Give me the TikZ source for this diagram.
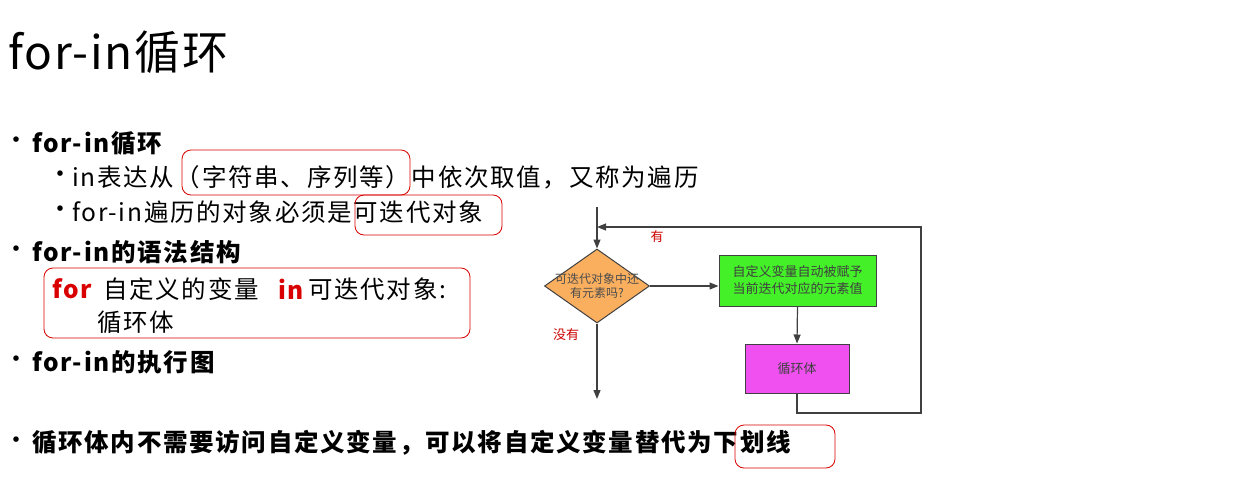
\documentclass[tikz,border=0pt]{standalone}
\usepackage{fontspec}
\setmainfont{Noto Sans CJK SC}
\usetikzlibrary{shapes.geometric,arrows.meta}
\begin{document}
\begin{tikzpicture}[x=1pt,y=-1pt,
  txt/.style={anchor=west,inner sep=0pt,font=\fontsize{24.5}{26}\selectfont\addfontfeature{LetterSpace=7}},
  btxt/.style={txt,font=\fontsize{24.5}{26}\selectfont\addfontfeature{LetterSpace=7}\bfseries},
  redbox/.style={draw=red!85!black,rounded corners=9pt,line width=0.8pt},
  flow/.style={draw=black!75,line width=1.2pt},
  arr/.style={flow,-{Triangle[length=9pt,width=7pt]}},
  dot/.style={inner sep=0pt,font=\fontsize{26}{26}\selectfont},
  lbl/.style={font=\fontsize{13}{14}\selectfont,text=red!80!black,inner sep=0pt}]
\useasboundingbox (0,0) rectangle (1248,503);
\node[anchor=west,inner sep=0pt,font=\fontsize{46}{48}\selectfont\addfontfeature{LetterSpace=4}] (title) at (8,52) {for-in循环};
% bullets
\foreach \y/\nm in {143/b1,252/b2,362/b3,443/b4} \node[dot] (\nm) at (16,\y) {•};
\foreach \y/\nm in {177/s1,212/s2} \node[dot] (\nm) at (60,\y) {•};
\node[btxt] (l1) at (32,143) {for-in循环};
\node[txt] (l2) at (72,177) {in表达从（字符串、序列等）中依次取值，又称为遍历};
\node[txt] (l3) at (72,212) {for-in遍历的对象必须是可迭代对象};
\node[btxt] (l4) at (32,252) {for-in的语法结构};
\node[btxt,text=red!85!black] (kf) at (52,289) {for};
\node[txt] (v) at (103,289) {自定义的变量};
\node[btxt,text=red!85!black] (ki) at (278,289) {in};
\node[txt] (it) at (308,289) {可迭代对象:};
\node[txt] (body) at (97,322) {循环体};
\node[btxt] (l5) at (32,362) {for-in的执行图};
\node[btxt] (l6) at (32,443) {循环体内不需要访问自定义变量，可以将自定义变量替代为下划线};
% red marks
\draw[redbox] (182,150) rectangle (410,195);
\draw[redbox] (355,195) rectangle (502,235);
\draw[redbox] (44,268) rectangle (470,338);
\draw[redbox] (735,425) rectangle (835,468);
% flowchart
\node[diamond,draw=black!75,line width=1pt,fill={rgb,255:red,250;green,175;blue,95},minimum width=105pt,minimum height=74pt,inner sep=0pt,aspect=1.4] (d) at (597,286) {};
\node[font=\fontsize{12}{14}\selectfont,align=center,text=black!70] (dt) at (d) {可迭代对象中还\\有元素吗?};
\node[draw=black!75,line width=1pt,fill={rgb,255:red,68;green,240;blue,40},minimum width=157pt,minimum height=51pt,font=\fontsize{13}{17}\selectfont,align=center,text=black!75] (g) at (797.5,280.5) {自定义变量自动被赋予\\当前迭代对应的元素值};
\node[draw=black!75,line width=1pt,fill={rgb,255:red,240;green,80;blue,240},minimum width=104pt,minimum height=49pt,font=\fontsize{13}{15}\selectfont,text=black!75] (m) at (797,368.5) {循环体};
\coordinate (top) at (597,207);
\coordinate (end) at (597,399);
\coordinate (c1) at (797,413);
\coordinate (c2) at (921,413);
\coordinate (c3) at (921,227);
\coordinate (c4) at (597,227);
\draw[arr] (top) -- (d.north);
\draw[arr] (d.east) -- (d.east -| g.west);
\draw[arr] (g.south) -- (m.north);
\draw[arr] (d.south) -- (end);
\draw[arr] (m.south) -- (c1) -- (c2) -- (c3) -- (c4);
\node[lbl] (yes) at (657,237) {有};
\node[lbl] (no) at (566,335) {没有};
\end{tikzpicture}
\end{document}
